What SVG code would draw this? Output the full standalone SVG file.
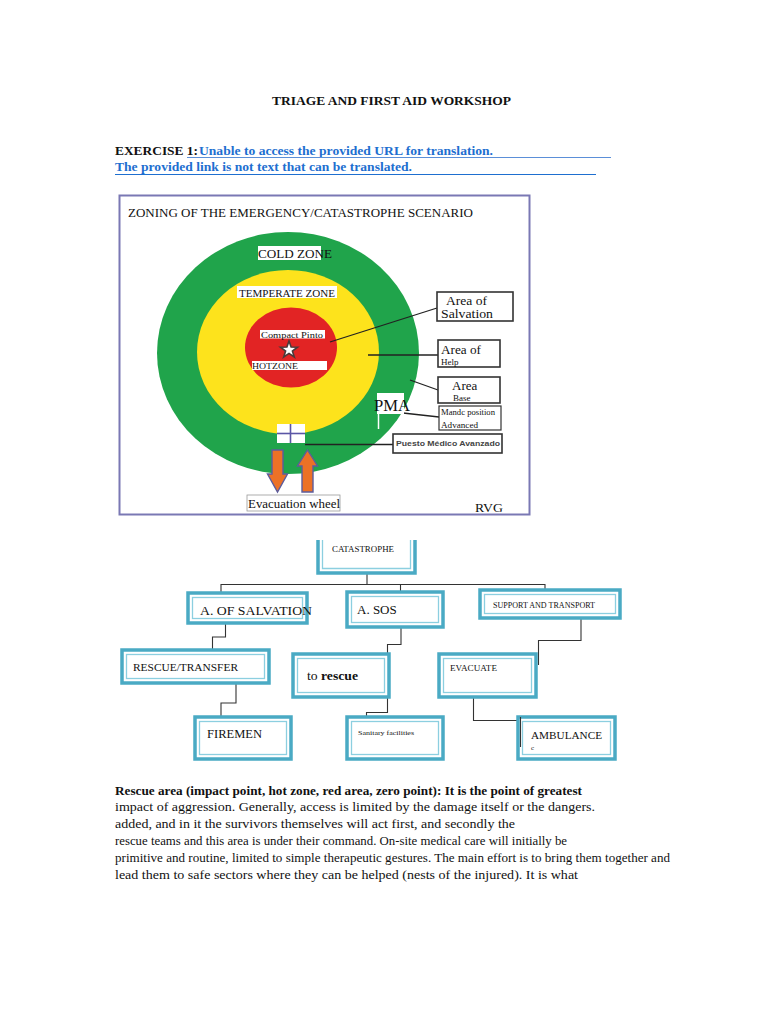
<svg xmlns="http://www.w3.org/2000/svg" width="768" height="1024" viewBox="0 0 768 1024">
<style>
.serif{font-family:"Liberation Serif","Times New Roman",serif;fill:#111}
.b{font-weight:bold}
.blue{fill:#1e6fd0;font-weight:bold}
.lbl{fill:#fff;stroke:#333;stroke-width:1.6}
.ln{stroke:#222;stroke-width:1.3;fill:none}
.conn{stroke:#333;stroke-width:1.1;fill:none}
.outer{fill:#fff;stroke:#4aaac4;stroke-width:3.5}
.inner{fill:none;stroke:#8ccfe0;stroke-width:1.3}
.arr{fill:#ec7126;stroke:#5c5c9c;stroke-width:1.4}
</style>
<rect width="768" height="1024" fill="#fff"/>

<g id="header">
<text class="serif b" x="272" y="105" font-size="13" textLength="239" lengthAdjust="spacingAndGlyphs">TRIAGE AND FIRST AID WORKSHOP</text>
<text class="serif b" x="115" y="155" font-size="13.5" textLength="83" lengthAdjust="spacingAndGlyphs">EXERCISE 1:</text>
<text class="serif blue" x="199" y="155" font-size="13" textLength="294" lengthAdjust="spacingAndGlyphs">Unable to access the provided URL for translation.</text>
<line x1="187" y1="157.5" x2="611" y2="157.5" stroke="#5b8fd8" stroke-width="1.2"/>
<text class="serif blue" x="115" y="171" font-size="13" textLength="297" lengthAdjust="spacingAndGlyphs">The provided link is not text that can be translated.</text>
<line x1="115" y1="174.5" x2="596" y2="174.5" stroke="#1e6fd0" stroke-width="1.2"/>
</g>

<g id="zoning">
<rect x="119.5" y="195.5" width="410" height="319" fill="#fff" stroke="#7a78b4" stroke-width="2"/>
<text class="serif" x="128" y="217" font-size="13" textLength="345" lengthAdjust="spacingAndGlyphs">ZONING OF THE EMERGENCY/CATASTROPHE SCENARIO</text>
<ellipse cx="288" cy="353" rx="131" ry="121" fill="#20a44b"/>
<ellipse cx="288" cy="352" rx="91" ry="82" fill="#fde31c"/>
<ellipse cx="291" cy="347.5" rx="46" ry="40" fill="#e22424"/>

<g id="cold-zone">
<rect x="258" y="246" width="63" height="14" fill="#fff"/>
<text class="serif" x="258" y="258" font-size="13" textLength="74" lengthAdjust="spacingAndGlyphs">COLD ZONE</text>
</g>
<g id="temperate-zone">
<rect x="237" y="286" width="100" height="12" fill="#fff"/>
<text class="serif" x="239" y="297" font-size="11" textLength="96" lengthAdjust="spacingAndGlyphs">TEMPERATE ZONE</text>
</g>
<g id="hot-zone">
<rect x="260" y="330" width="65" height="8.5" fill="#fff"/>
<text class="serif" x="261" y="337.5" font-size="8.5" textLength="62" lengthAdjust="spacingAndGlyphs">Compact Pinto</text>
<polygon points="289,341 291.1,347 297.5,347.2 292.4,351 294.3,357 289,353.4 283.7,357 285.6,351 280.5,347.2 286.9,347" fill="#fff" stroke="#4a3a3a" stroke-width="1.6"/>
<rect x="252" y="361" width="75" height="9" fill="#fff"/>
<text class="serif" x="252" y="369" font-size="8" textLength="46" lengthAdjust="spacingAndGlyphs">HOTZONE</text>
</g>

<g id="leaders">
<line class="ln" x1="330" y1="342" x2="437" y2="308"/>
<line class="ln" x1="368" y1="355" x2="438" y2="355"/>
<line class="ln" x1="410" y1="380" x2="438" y2="390"/>
<line class="ln" x1="403" y1="413" x2="439" y2="417"/>
<line class="ln" x1="305" y1="444.5" x2="393" y2="444.5"/>
</g>

<g id="area-salvation">
<rect class="lbl" x="437" y="292" width="76" height="29"/>
<text class="serif" x="446" y="305" font-size="13" textLength="41" lengthAdjust="spacingAndGlyphs">Area of</text>
<text class="serif" x="441" y="318" font-size="13" textLength="52" lengthAdjust="spacingAndGlyphs">Salvation</text>
</g>
<g id="area-help">
<rect class="lbl" x="438" y="340" width="62" height="27"/>
<text class="serif" x="441" y="354" font-size="13" textLength="40" lengthAdjust="spacingAndGlyphs">Area of</text>
<text class="serif" x="441" y="365" font-size="9">Help</text>
</g>
<g id="area-base">
<rect class="lbl" x="438" y="377" width="62" height="26"/>
<text class="serif" x="452" y="390" font-size="13">Area</text>
<text class="serif" x="453" y="400.5" font-size="9">Base</text>
</g>
<g id="mandc">
<rect x="439" y="406" width="62" height="24" fill="#fff" stroke="#333" stroke-width="1.2"/>
<text class="serif" x="441" y="415" font-size="8.5" textLength="54" lengthAdjust="spacingAndGlyphs">Mandc position</text>
<text class="serif" x="441" y="427.5" font-size="8.5" textLength="37" lengthAdjust="spacingAndGlyphs">Advanced</text>
</g>
<g id="pma">
<rect x="377" y="393" width="27" height="21" fill="#fff"/>
<line x1="378.5" y1="414" x2="378.5" y2="429" stroke="#fff" stroke-width="1.5"/>
<text class="serif" x="374" y="411" font-size="16" textLength="36" lengthAdjust="spacingAndGlyphs">PMA</text>
</g>
<g id="puesto">
<rect class="lbl" x="393" y="434" width="109" height="19"/>
<text x="396" y="446" font-family="'Liberation Sans',Arial,sans-serif" font-weight="bold" font-size="7.5" fill="#444" textLength="104" lengthAdjust="spacingAndGlyphs">Puesto Médico Avanzado</text>
</g>
<g id="pma-cross">
<rect x="277" y="424" width="28" height="19" fill="#fff"/>
<line x1="290.5" y1="424" x2="290.5" y2="443" stroke="#5a56a6" stroke-width="1.6"/>
<line x1="277" y1="433.5" x2="305" y2="433.5" stroke="#5a56a6" stroke-width="1.6"/>
</g>
<g id="evac-arrows">
<polygon class="arr" points="272,450 283,450 283,474 287.5,474 277.5,492 267.5,474 272,474"/>
<polygon class="arr" points="307.5,450 317.5,466 313,466 313,492 302,492 302,466 297.5,466"/>
</g>
<g id="evac-wheel">
<rect x="247" y="495" width="93" height="16" fill="#fff" stroke="#999" stroke-width="0.8"/>
<text class="serif" x="248" y="508" font-size="13" textLength="92" lengthAdjust="spacingAndGlyphs">Evacuation wheel</text>
</g>
<text class="serif" x="475" y="512" font-size="13" textLength="28" lengthAdjust="spacingAndGlyphs">RVG</text>
</g>

<g id="connectors">
<polyline class="conn" points="367,573 367,584.5"/>
<polyline class="conn" points="221,593 221,584.5 545,584.5 545,590"/>
<polyline class="conn" points="400.5,584.5 400.5,591"/>
<polyline class="conn" points="225.5,623 225.5,637 212.5,637 212.5,650"/>
<polyline class="conn" points="401,627 401,644.5 387.5,644.5 387.5,665"/>
<polyline class="conn" points="581,618 581,640.5 538.5,640.5 538.5,665"/>
<polyline class="conn" points="236,683 236,703 221,703 221,717"/>
<polyline class="conn" points="387.5,697 387.5,712.5 366.5,712.5 366.5,717"/>
<polyline class="conn" points="473.5,697 473.5,720.5 520.5,720.5 520.5,747"/>
</g>

<g id="catastrophe">
<path class="outer" d="M318,540 V573 H415 V540"/>
<path class="inner" d="M322.5,540 V568.5 H410.5 V540"/>
<text class="serif" x="332" y="551.5" font-size="8" textLength="62" lengthAdjust="spacingAndGlyphs">CATASTROPHE</text>
</g>
<g id="a-salvation">
<rect class="outer" x="188" y="593" width="119" height="30"/>
<rect class="inner" x="192.5" y="597.5" width="110" height="21"/>
<text class="serif" x="200" y="615" font-size="13" textLength="112" lengthAdjust="spacingAndGlyphs">A. OF SALVATION</text>
</g>
<g id="a-sos">
<rect class="outer" x="347" y="592" width="96" height="35"/>
<rect class="inner" x="351.5" y="596.5" width="87" height="26"/>
<text class="serif" x="357" y="614" font-size="13">A. SOS</text>
</g>
<g id="support-transport">
<rect class="outer" x="480" y="590" width="140" height="28"/>
<rect class="inner" x="484.5" y="594.5" width="131" height="19"/>
<text class="serif" x="493" y="607.5" font-size="8" textLength="102" lengthAdjust="spacingAndGlyphs">SUPPORT AND TRANSPORT</text>
</g>
<g id="rescue-transfer">
<rect class="outer" x="122" y="650" width="147" height="33"/>
<rect class="inner" x="126.5" y="654.5" width="138" height="24"/>
<text class="serif" x="133" y="671" font-size="11" textLength="105" lengthAdjust="spacingAndGlyphs">RESCUE/TRANSFER</text>
</g>
<g id="to-rescue">
<rect class="outer" x="293" y="654" width="96" height="43"/>
<rect class="inner" x="297.5" y="658.5" width="87" height="34"/>
<text class="serif" x="307" y="680" font-size="12" textLength="51" lengthAdjust="spacingAndGlyphs">to <tspan font-weight="bold">rescue</tspan></text>
</g>
<g id="evacuate">
<rect class="outer" x="439" y="654" width="97" height="43"/>
<rect class="inner" x="443.5" y="658.5" width="88" height="34"/>
<text class="serif" x="450" y="671" font-size="8" textLength="47" lengthAdjust="spacingAndGlyphs">EVACUATE</text>
</g>
<g id="firemen">
<rect class="outer" x="195" y="717" width="96" height="42"/>
<rect class="inner" x="199.5" y="721.5" width="87" height="33"/>
<text class="serif" x="207" y="738" font-size="13" textLength="55" lengthAdjust="spacingAndGlyphs">FIREMEN</text>
</g>
<g id="sanitary">
<rect class="outer" x="347" y="717" width="96" height="42"/>
<rect class="inner" x="351.5" y="721.5" width="87" height="33"/>
<text class="serif" x="358" y="735" font-size="7" textLength="56" lengthAdjust="spacingAndGlyphs">Sanitary facilities</text>
</g>
<g id="ambulance">
<rect class="outer" x="518" y="717" width="97" height="42"/>
<rect class="inner" x="522.5" y="721.5" width="88" height="33"/>
<line class="conn" x1="520.5" y1="717" x2="520.5" y2="747"/>
<text class="serif" x="531" y="739" font-size="11" textLength="71" lengthAdjust="spacingAndGlyphs">AMBULANCE</text>
<text class="serif" x="531" y="750" font-size="7" fill="#5a3a1a">c</text>
</g>

<g id="paragraph" font-size="12.5">
<text class="serif b" x="115" y="795" textLength="467" lengthAdjust="spacingAndGlyphs">Rescue area (impact point, hot zone, red area, zero point): It is the point of greatest</text>
<text class="serif" x="115" y="811" textLength="480" lengthAdjust="spacingAndGlyphs">impact of aggression. Generally, access is limited by the damage itself or the dangers.</text>
<text class="serif" x="115" y="828" textLength="400" lengthAdjust="spacingAndGlyphs">added, and in it the survivors themselves will act first, and secondly the</text>
<text class="serif" x="115" y="845" textLength="452" lengthAdjust="spacingAndGlyphs">rescue teams and this area is under their command. On-site medical care will initially be</text>
<text class="serif" x="115" y="862" textLength="555" lengthAdjust="spacingAndGlyphs">primitive and routine, limited to simple therapeutic gestures. The main effort is to bring them together and</text>
<text class="serif" x="115" y="879" textLength="463" lengthAdjust="spacingAndGlyphs">lead them to safe sectors where they can be helped (nests of the injured). It is what</text>
</g>
</svg>
